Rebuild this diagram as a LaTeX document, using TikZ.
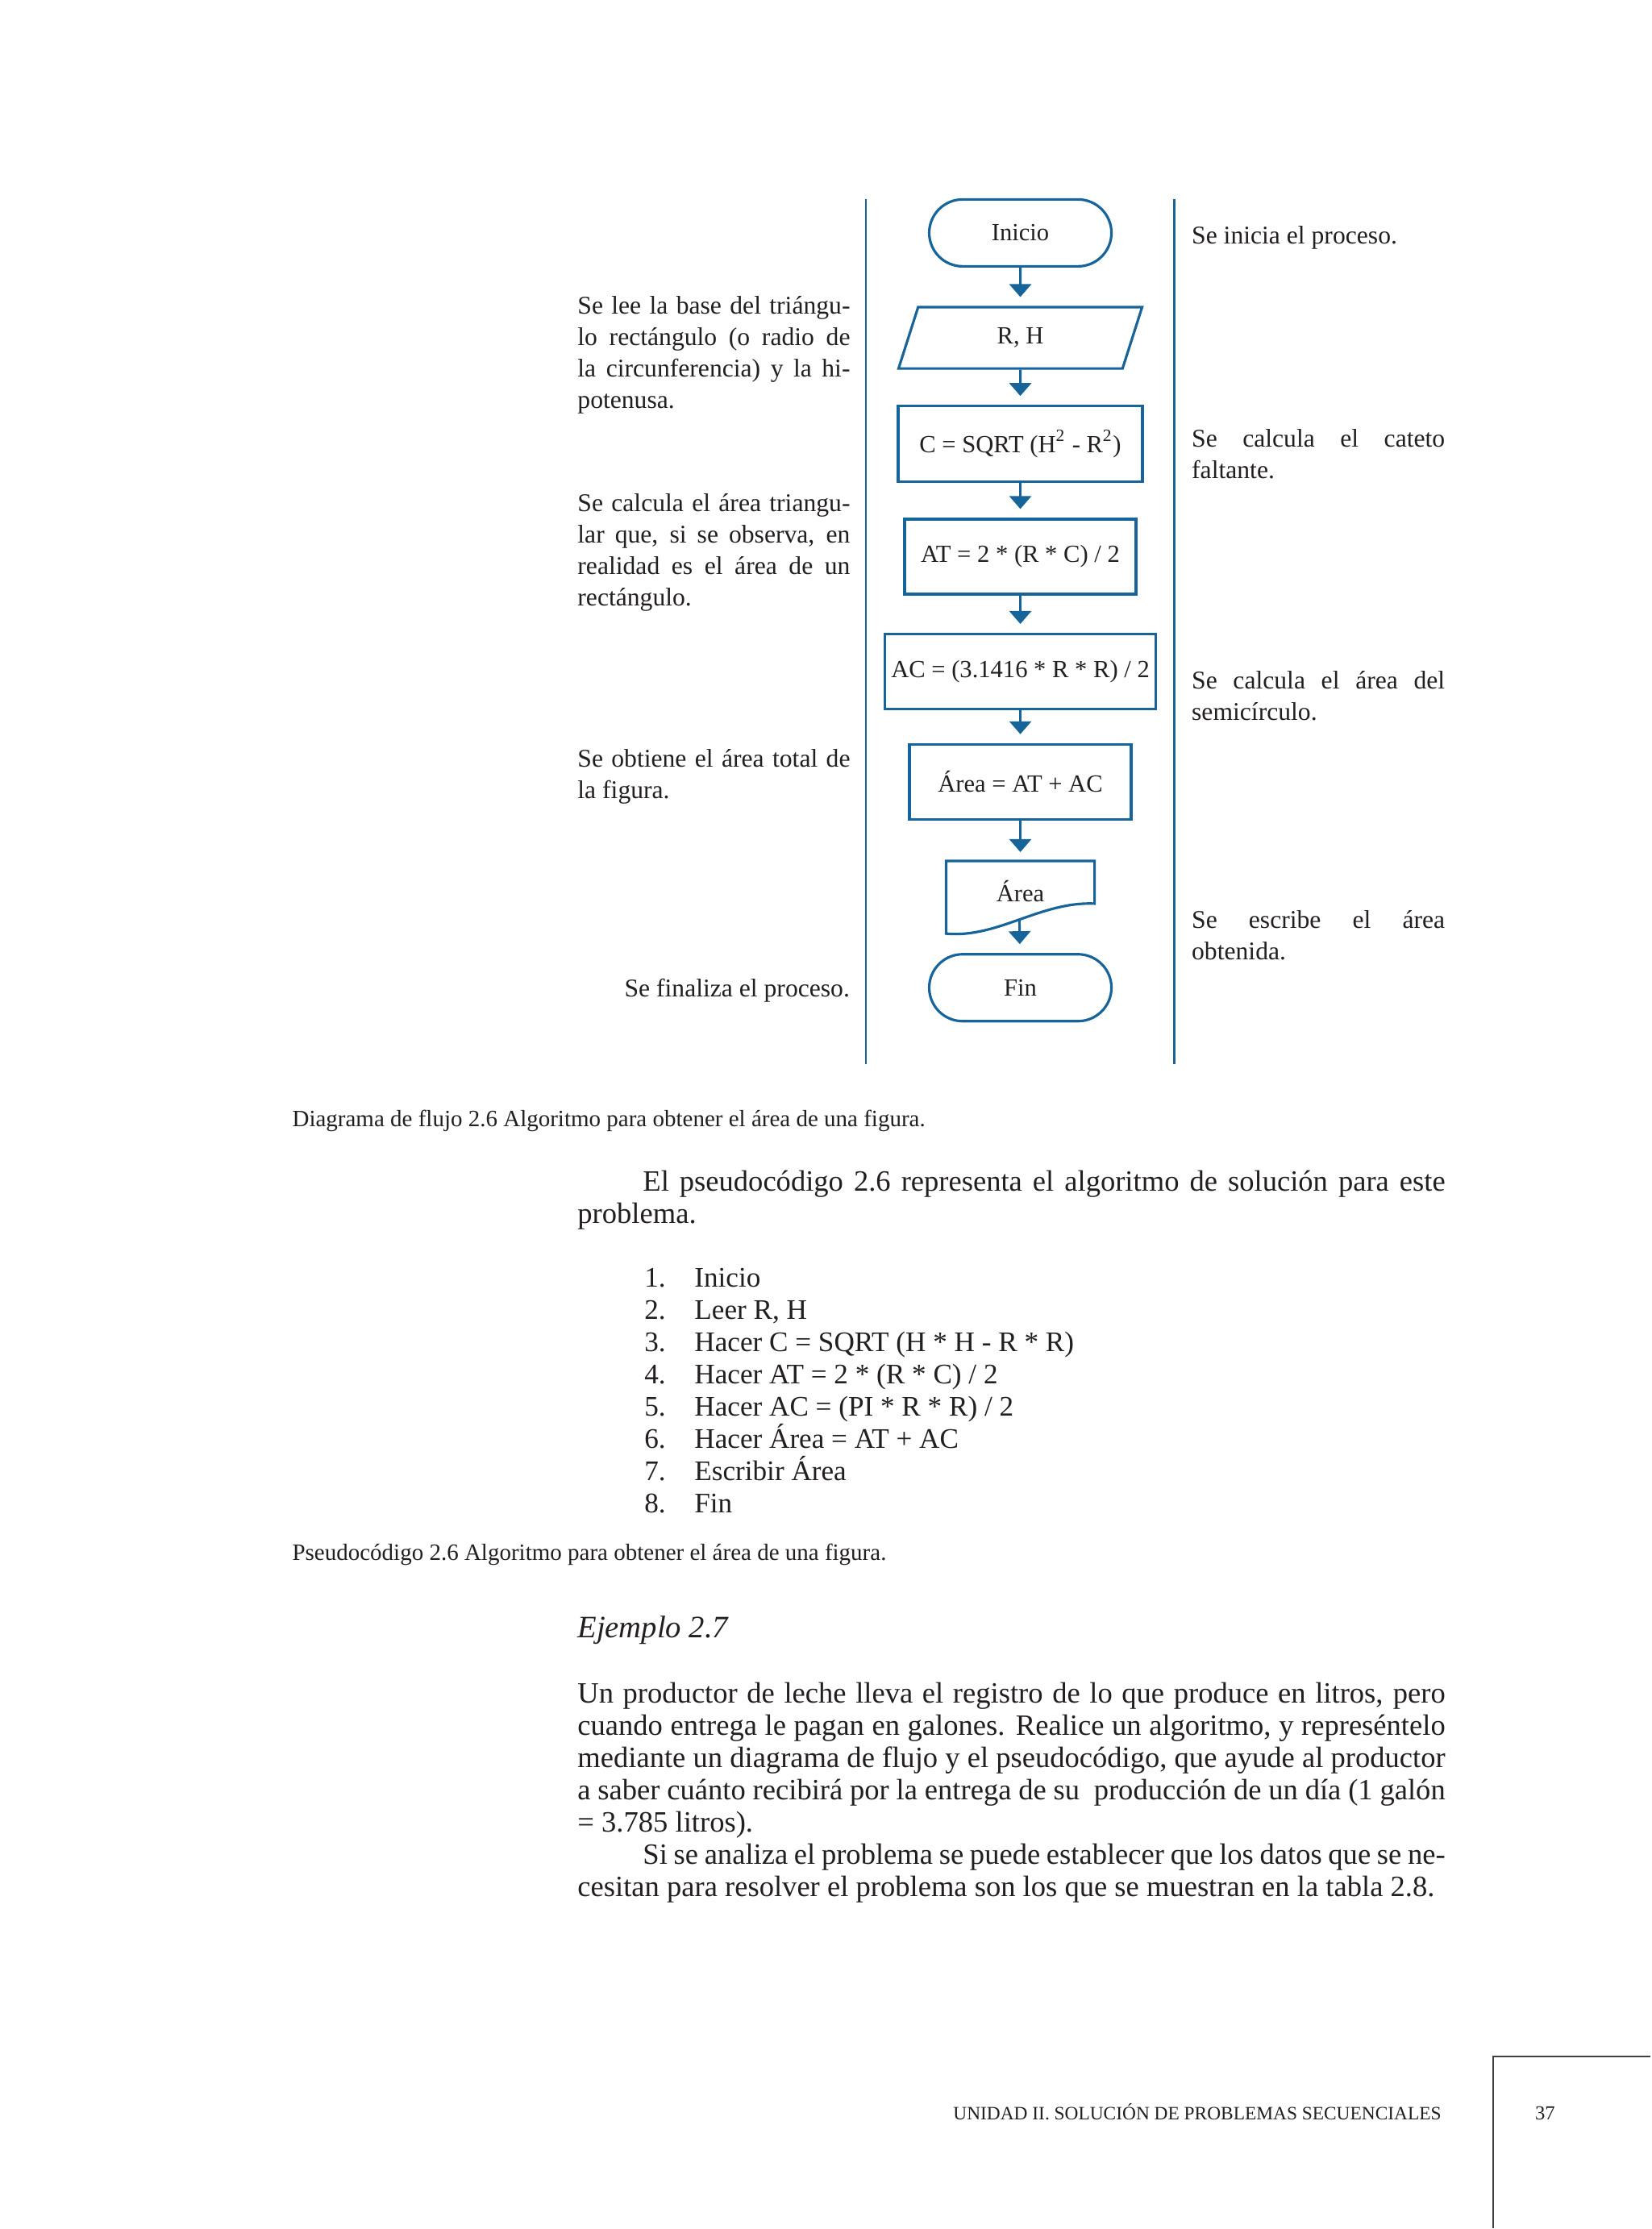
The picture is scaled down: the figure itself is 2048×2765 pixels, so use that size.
\documentclass[tikz,border=0pt]{standalone}
\usepackage{fontspec}
\setmainfont{Liberation Serif}
\usetikzlibrary{positioning, arrows.meta, shapes.geometric}
\definecolor{cAzul}{HTML}{17649A}
\definecolor{cTexto}{HTML}{231F20}
\tikzset{
  caja/.style={
    draw=cAzul, line width=0.9pt,
    text=cTexto,
    inner sep=2pt,
    minimum height=0.93cm,
    font=\fontsize{8.7}{11}\selectfont
  },
  terminal/.style={
    caja,
    rounded corners=0.415cm,
    minimum width=2.26cm,
    minimum height=0.83cm
  },
  entrada/.style={
    caja, trapezium,
    trapezium left angle=58, trapezium right angle=122,
    trapezium stretches body,
    minimum width=3.02cm,
    minimum height=0.76cm
  },
  flecha/.style={
    -{Triangle[length=1.6mm,width=2.7mm]},
    line width=0.85pt,
    draw=cAzul,
    shorten >=1.1mm
  },
  divisor/.style={draw=cAzul, line width=0.6pt},
  nota/.style={
    inner sep=0pt, anchor=base west,
    text=cTexto,
    font=\fontsize{9}{11.1}\selectfont
  },
  cuerpo/.style={
    inner sep=0pt, anchor=base west,
    text=cTexto,
    font=\fontsize{10}{11.4}\selectfont
  },
  leyenda/.style={
    cuerpo,
    font=\fontsize{8.25}{10}\selectfont
  }
}
\newcommand{\nbox}[2]{\parbox[t]{#1}{\hyphenpenalty=10000 #2}}
\newcommand{\paso}[1]{\makebox[0.62cm][l]{#1}}

\begin{document}
\begin{tikzpicture}[x=0.01cm, y=-0.01cm, node distance=0.48cm]
  \fill[white] (0,0) rectangle (2048,2765);

  % columnas
  \draw[divisor] (1074,247) -- (1074,1320);
  \draw[divisor] (1457,247) -- (1457,1320);

  % diagrama de flujo
  \node[terminal] (inicio) at (1266,289) {Inicio};
  \node[entrada, below=0.475cm of inicio] (lee) {R, H};
  \node[caja, below=0.435cm of lee, minimum width=3.03cm, minimum height=0.94cm] (cateto) {C = SQRT (H\textsuperscript{2} - R\textsuperscript{2})};
  \node[caja, below=0.43cm of cateto, minimum width=2.87cm] (triang) {AT = 2 * (R * C) / 2};
  \node[caja, below=0.464cm of triang, minimum width=3.36cm] (semic) {AC = (3.1416 * R * R) / 2};
  \node[caja, below=0.406cm of semic, minimum width=2.75cm] (total) {Área = AT + AC};
  \node[caja, draw=none, below=0.5cm of total, minimum width=1.81cm, minimum height=0.87cm, inner sep=0pt] (salida) {\raisebox{0.16cm}{Área}};
  \draw[cAzul, line width=0.9pt] (salida.north west) -- (salida.north east) -- ++(0,53)
    .. controls +(-67,-3) and +(64,6) .. (salida.south west) coordinate[pos=.5] (onda) -- cycle;
  \node[terminal, below=0.24cm of salida] (fin) {Fin};

  \foreach \a/\b in {inicio/lee, lee/cateto, cateto/triang, triang/semic, semic/total, total/salida}
    \draw[flecha] (\a) -- (\b);
  \draw[flecha] (onda) -- (fin);

  % notas izquierda
  \node[nota] (nlee) at (716,390) {\nbox{3.38cm}{Se lee la base del triángu-\linebreak lo rectángulo (o radio de\linebreak la circunferencia) y la hi-\linebreak potenusa.}};
  \node[nota] (ntriang) at (716,635) {\nbox{3.38cm}{Se calcula el área triangu-\linebreak lar que, si se observa, en\linebreak realidad es el área de un\linebreak rectángulo.}};
  \node[nota] (ntotal) at (716,952) {\nbox{3.38cm}{Se obtiene el área total de\linebreak la figura.}};
  \node[nota, anchor=base east] (nfin) at (1055,1237) {Se finaliza el proceso.};

  % notas derecha
  \node[nota] (ninicio) at (1478,303) {Se inicia el proceso.};
  \node[nota] (ncateto) at (1478,555) {\nbox{3.14cm}{Se calcula el cateto\linebreak faltante.}};
  \node[nota] (nsemic) at (1478,855) {\nbox{3.14cm}{Se calcula el área del\linebreak semicírculo.}};
  \node[nota] (nsalida) at (1478,1152) {\nbox{3.14cm}{Se escribe el área\linebreak obtenida.}};

  % texto de la pagina
  \node[leyenda] (ley1) at (362,1398) {Diagrama de flujo 2.6 Algoritmo para obtener el área de una figura.};
  \node[cuerpo, font=\fontsize{10.4}{11.4}\selectfont] (par1) at (716,1478) {\nbox{10.76cm}{\hspace*{0.81cm}El pseudocódigo 2.6 representa el algoritmo de solución para este\linebreak problema.}};
  \node[cuerpo] (pseudo) at (799,1597) {\nbox{8cm}{\paso{1.}Inicio\\
    \paso{2.}Leer R, H\\
    \paso{3.}Hacer C = SQRT (H * H - R * R)\\
    \paso{4.}Hacer AT = 2 * (R * C) / 2\\
    \paso{5.}Hacer AC = (PI * R * R) / 2\\
    \paso{6.}Hacer Área = AT + AC\\
    \paso{7.}Escribir Área\\
    \paso{8.}Fin}};
  \node[leyenda] (ley2) at (362,1936) {Pseudocódigo 2.6 Algoritmo para obtener el área de una figura.};
  \node[cuerpo, font=\fontsize{11}{13}\selectfont\itshape] (ejemplo) at (716,2032) {Ejemplo 2.7};
  \node[cuerpo, font=\fontsize{10.4}{11.4}\selectfont] (par2) at (716,2113) {\nbox{10.76cm}{Un productor de leche lleva el registro de lo que produce en litros, pero\linebreak
    cuando entrega le pagan en galones. Realice un algoritmo, y represéntelo\linebreak
    mediante un diagrama de flujo y el pseudocódigo, que ayude al productor\linebreak
    a saber cuánto recibirá por la entrega de su \ producción de un día (1 galón\linebreak
    = 3.785 litros).\par
    \hspace*{0.81cm}Si se analiza el problema se puede establecer que los datos que se ne-\linebreak
    cesitan para resolver el problema son los que se muestran en la tabla 2.8.}};

  % pie de pagina
  \draw[black!75, line width=0.6pt] (1853,2765) -- (1853,2552) -- (2048,2552);
  \node[cuerpo, anchor=base east, font=\fontsize{6.65}{7}\selectfont] (pie) at (1789,2630) {UNIDAD II. SOLUCIÓN DE PROBLEMAS SECUENCIALES};
  \node[cuerpo, anchor=base, font=\fontsize{7}{8}\selectfont] (pagina) at (1917,2630) {37};
\end{tikzpicture}
\end{document}
